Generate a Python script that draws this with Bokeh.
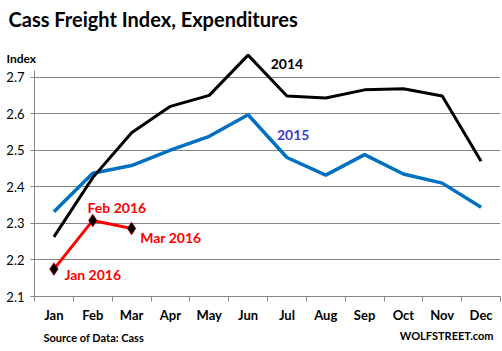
from bokeh.plotting import figure
from bokeh.models import Range1d, FixedTicker, Label
from bokeh.embed import file_html
from bokeh.resources import INLINE

months = ["Jan", "Feb", "Mar", "Apr", "May", "Jun", "Jul", "Aug", "Sep", "Oct", "Nov", "Dec"]
idx_2014 = [2.263, 2.425, 2.548, 2.620, 2.650, 2.760, 2.648, 2.643, 2.665, 2.668, 2.648, 2.470]
idx_2015 = [2.332, 2.437, 2.458, 2.500, 2.538, 2.597, 2.480, 2.432, 2.488, 2.435, 2.410, 2.344]
idx_2016 = [2.175, 2.308, 2.286]
y_ticks = [2.1, 2.2, 2.3, 2.4, 2.5, 2.6, 2.7]

xs = list(range(1, 13))
GRAY = "#868686"
FONT = "Lato"
FL, FT, FB = 34, 40, 297  # frame left / top / bottom in canvas pixels

p = figure(width=502, height=351, x_range=Range1d(0.5, 12.5), y_range=Range1d(2.1, 2.8),
           output_backend="svg", toolbar_location=None,
           min_border_left=FL, min_border_right=2, min_border_top=FT, min_border_bottom=351 - FB)
p.outline_line_color = None
p.background_fill_color = "white"
p.border_fill_color = "white"

p.xgrid.visible = False
p.ygrid.ticker = FixedTicker(ticks=y_ticks[1:])
p.ygrid.grid_line_color = GRAY
p.ygrid.grid_line_width = 1

xa = p.xaxis[0]
xa.ticker = FixedTicker(ticks=xs, minor_ticks=[x - 0.5 for x in xs] + [12.5])
xa.major_label_overrides = {i + 1: m for i, m in enumerate(months)}
xa.major_tick_line_color = None
xa.major_tick_out = 0
xa.major_tick_in = 0
xa.minor_tick_line_color = GRAY
xa.minor_tick_out = 5
xa.minor_tick_in = 0
xa.axis_line_color = GRAY
xa.major_label_standoff = 5
xa.major_label_text_font = FONT
xa.major_label_text_font_style = "bold"
xa.major_label_text_font_size = "13px"
xa.major_label_text_color = "black"

ya = p.yaxis[0]
ya.ticker = FixedTicker(ticks=y_ticks)
ya.bounds = (2.1, 2.717)
ya.axis_line_color = GRAY
ya.major_tick_line_color = GRAY
ya.major_tick_out = 4
ya.major_tick_in = 0
ya.minor_tick_line_color = None
ya.major_label_standoff = 6
ya.major_label_text_font = FONT
ya.major_label_text_font_size = "13px"
ya.major_label_text_color = "black"

p.line(xs, idx_2015, line_color="#0070C0", line_width=3.5)
p.line(xs, idx_2014, line_color="black", line_width=3)
p.line(xs[:3], idx_2016, line_color="#FF0000", line_width=3)
p.scatter(xs[:3], idx_2016, marker="diamond", size=13, fill_color="black", line_color="#FF0000", line_width=0.5)

def lab(x, y, text, color="black", size="14px", align="center", units="data", place="center"):
    p.add_layout(Label(x=x, y=y, text=text, x_units=units, y_units=units,
                       text_align=align, text_baseline="middle", text_font=FONT,
                       text_font_style="bold", text_font_size=size, text_color=color), place)

lab(7.0, 2.736, "2014")
lab(7.16, 2.541, "2015", color="#4040CC")
lab(2.62, 2.344, "Feb 2016", color="#FF0000")
lab(4.01, 2.26, "Mar 2016", color="#FF0000")
lab(2.0, 2.159, "Jan 2016", color="#FF0000")

# side-panel labels: screen units relative to their own stacked panel
lab(8 - FL, 22, "Cass Freight Index, Expenditures", size="20px", align="left", units="screen", place="above")
lab(6 - FL, -42, "Index", size="12px", align="left", units="screen", place="above")
lab(43 - FL, 1, "Source of Data: Cass", size="11px", align="left", units="screen", place="below")
lab(493 - FL, 16, "WOLFSTREET.com", size="11px", align="right", units="screen", place="below")

open("out.html", "w").write(file_html(p, INLINE))
